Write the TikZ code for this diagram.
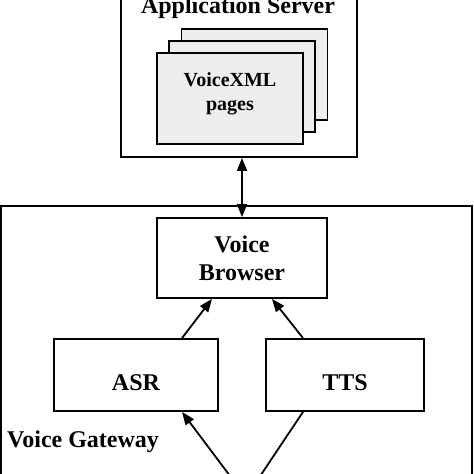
\documentclass[tikz,border=0pt]{standalone}
\usepackage{fontspec}
\setmainfont{Liberation Serif}
\usetikzlibrary{arrows.meta}
\begin{document}
\begin{tikzpicture}[x=1pt,y=-1pt,
  box/.style={draw, line width=1.8pt, inner sep=0pt, align=center},
  big/.style={font=\fontsize{24}{28}\selectfont\bfseries, align=center, inner sep=0pt},
  small/.style={font=\fontsize{20}{24}\selectfont\bfseries, align=center, inner sep=0pt},
  page/.style={box, fill=gray!13, minimum width=146pt, minimum height=91pt},
  tip/.tip={Triangle[length=13pt,width=10pt]},
  arr/.style={line width=1.8pt, -tip},
  darr/.style={line width=1.8pt, tip-tip}]
\useasboundingbox (0,0) rectangle (474,474);
\clip (0,0) rectangle (474,474);
% Application server
\node[box, minimum width=236pt, minimum height=187pt] (app) at (239,63.5) {};
\node[big, anchor=base] (apptitle) at (238,13) {Application Server};
\node[page] (p3) at (254.5,74.5) {};
\node[page] (p2) at (242,86.5) {};
\node[page] (p1) at (230,98.5) {};
\node[small] (p1t) at ([yshift=5pt]p1.center) {VoiceXML\\pages};
% Voice gateway
\node[box, minimum width=471pt, minimum height=278pt] (gw) at (236.5,345) {};
\node[big, anchor=base west] (gwt) at (7,447) {Voice Gateway};
\node[box, big, minimum width=170pt, minimum height=80pt] (vb) at (242,258) {Voice\\Browser};
\node[box, minimum width=164pt, minimum height=72pt] (asr) at (136,375) {};
\node[big] (asrt) at ([yshift=-8pt]asr.center) {ASR};
\node[box, minimum width=158pt, minimum height=72pt] (tts) at (345,375) {};
\node[big] (ttst) at ([yshift=-8pt]tts.center) {TTS};
% connectors
\draw[darr] (app.south -| vb.north) -- (vb.north);
\draw[arr] ([xshift=46pt]asr.north) -- ([xshift=-30pt]vb.south);
\draw[arr] ([xshift=-42pt]tts.north) -- ([xshift=30pt]vb.south);
\coordinate (in) at (236,484);
\coordinate (out) at (247.5,495);
\draw[arr] (in) -- ([xshift=46pt]asr.south);
\draw[arr] ([xshift=-42pt]tts.south) -- (out);
\end{tikzpicture}
\end{document}
